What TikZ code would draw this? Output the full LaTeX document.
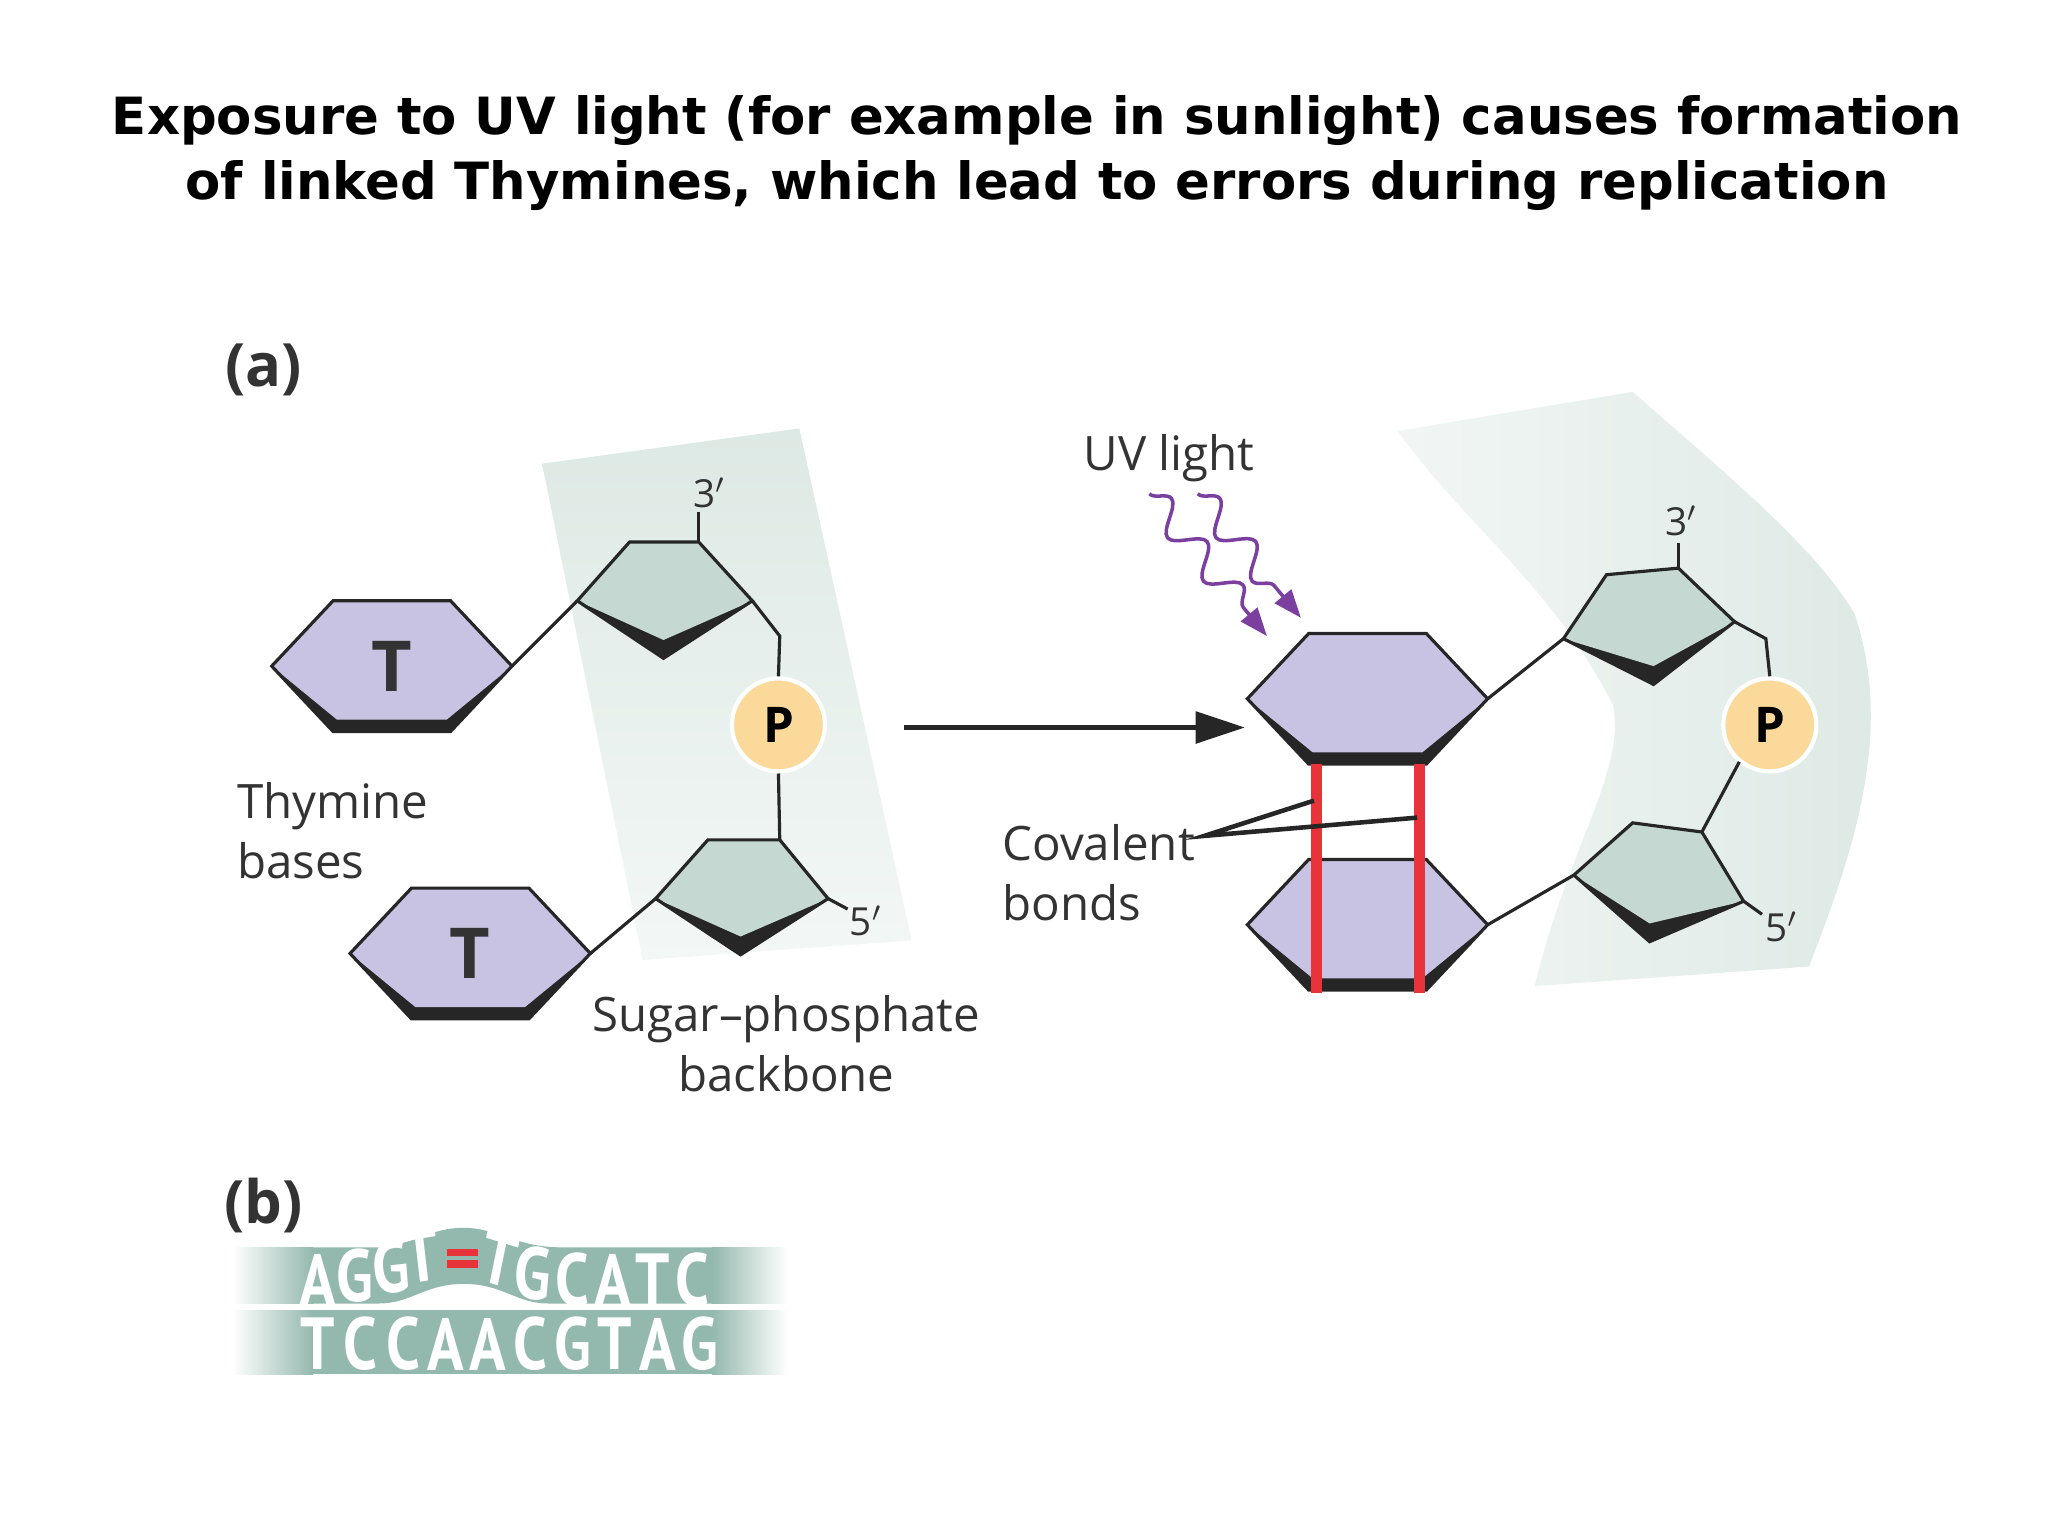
\documentclass[tikz,border=0pt]{standalone}
\usepackage{fontspec}
\setmainfont{Open Sans}
\newfontfamily\titlefont{DejaVu Sans}
\newfontfamily\seqfont{PT Sans}
\usetikzlibrary{decorations.pathmorphing,arrows.meta}
\definecolor{base}{HTML}{C9C3E3}
\definecolor{sug}{HTML}{C5D9D2}
\definecolor{band}{HTML}{DDE9E4}
\definecolor{pho}{HTML}{FBD99A}
\definecolor{uv}{HTML}{7B3FA0}
\definecolor{teal}{HTML}{93B8AD}
\definecolor{bond}{HTML}{E8333A}
\definecolor{lab}{HTML}{333333}
\tikzset{
  lbl/.style={font=\fontsize{13.5}{17}\selectfont, text=lab, inner sep=0pt},
  prime/.style={font=\fontsize{11}{11}\selectfont, text=lab, inner sep=0pt},
  link/.style={line width=0.9pt, draw=black!85},
  phos/.style={circle, fill=pho, draw=white, line width=1.2pt, minimum size=0.93cm, inner sep=0pt, font=\bfseries\fontsize{14}{14}\selectfont},
  tb/.style={font=\bfseries\fontsize{20}{20}\selectfont, text=black!80, inner sep=0pt},
  seq/.style={font=\seqfont\bfseries\fontsize{21}{21}\selectfont, text=white, inner sep=0pt, xscale=0.82},
}
\newcommand\myhex[3]{%
  \fill[black!85] (#2-92,#3) -- (#2-45,#3-50) -- (#2+45,#3-50) -- (#2+92,#3) -- (#2+45,#3+50) -- (#2-45,#3+50) -- cycle;
  \fill[base] (#2-92,#3) -- (#2-45,#3-50) -- (#2+45,#3-50) -- (#2+92,#3) -- (#2+42,#3+41) -- (#2-42,#3+41) -- cycle;
  \draw[line width=0.9pt, black!85, line join=miter] (#2-92,#3) -- (#2-45,#3-50) -- (#2+45,#3-50) -- (#2+92,#3) -- (#2+45,#3+50) -- (#2-45,#3+50) -- cycle;
  \coordinate (#1L) at (#2-92,#3); \coordinate (#1R) at (#2+92,#3);
}
\newcommand\mypent[6]{%
  \fill[black!85] #1 -- #2 -- #3 -- #4 -- #5 -- cycle;
  \fill[sug] #1 -- #2 -- #3 -- #4 -- #6 -- cycle;
  \draw[line width=0.9pt, black!85] #1 -- #2 -- #3 -- #4 -- #5 -- cycle;
}
\begin{document}
\begin{tikzpicture}[x=0.013061cm, y=-0.013061cm]
\useasboundingbox (0,0) rectangle (1568,1176);
\node[font=\titlefont\bfseries\fontsize{14.6}{18.5}\selectfont, align=center] (title) at (794,117)
  {Exposure to UV light (for example in sunlight) causes formation\\of linked Thymines, which lead to errors during replication};
\node[font=\bfseries\fontsize{17}{17}\selectfont, text=lab] (la) at (202,283) {(a)};
\node[font=\bfseries\fontsize{17}{17}\selectfont, text=lab] (lb) at (202,923) {(b)};
% backbone bands
\shade[top color=band, bottom color=band!35] (415,355) -- (612,328) -- (698,720) -- (492,735) -- cycle;
\shade[left color=band!40, right color=band] (1070,330) -- (1250,300) .. controls (1330,370) and (1390,420) .. (1420,470)
  .. controls (1450,560) and (1420,650) .. (1385,740) -- (1175,755) .. controls (1200,650) and (1245,590) .. (1235,540)
  .. controls (1190,450) and (1120,400) .. cycle;
% left structure
\myhex{h1}{300}{510}
\myhex{h2}{360}{730}
\node[tb] (t1) at (300,510) {T};
\node[tb] (t2) at (360,730) {T};
\mypent{(442,460)}{(482,415)}{(535,415)}{(576,460)}{(508,504)}{(508,490)}
\mypent{(502,688)}{(542,643)}{(597,643)}{(634,688)}{(567,731)}{(567,717)}
\coordinate (s1L) at (442,460); \coordinate (s1T) at (535,415); \coordinate (s1R) at (576,460);
\coordinate (s2L) at (502,688); \coordinate (s2T) at (597,643); \coordinate (s2R) at (634,688);
\node[phos] (p1) at (596,555) {P};
\draw[link] (h1R) -- (s1L);
\draw[link] (h2R) -- (s2L);
\draw[link] (s1R) -- (597,487) -- (p1.north);
\draw[link] (p1.south) -- (s2T);
\node[prime] (tp1) at (543,377) {3$'$};
\draw[link] (s1T) -- (535,392);
\node[prime] (fp1) at (663,705) {5$'$};
\draw[link] (s2R) -- (649,696);
\node[lbl, align=left, anchor=west] (thy) at (181,636) {Thymine\\bases};
\node[lbl, align=center] (spb) at (602,799) {Sugar--phosphate\\backbone};
% arrow
\coordinate (a0) at (692,557); \coordinate (a1) at (953,557);
\draw[line width=1.2pt, black!85, -{Triangle[length=14pt,width=9pt]}] (a0) -- (a1);
% UV
\node[lbl] (uvl) at (895,351) {UV light};
\coordinate (w1s) at (880,378); \coordinate (w1e) at (970,487);
\coordinate (w2s) at (917,378); \coordinate (w2e) at (996,473);
\draw[uv, line width=1pt, decorate, decoration={snake, amplitude=4, segment length=16, post length=10}, -{Triangle[length=8pt,width=6pt]}] (w1s) -- (w1e);
\draw[uv, line width=1pt, decorate, decoration={snake, amplitude=4, segment length=16, post length=10}, -{Triangle[length=8pt,width=6pt]}] (w2s) -- (w2e);
% right dimer
\myhex{h3}{1047}{535}
\myhex{h4}{1047}{708}
\draw[bond, line width=3.2pt] (1008,585) -- (1008,760);
\draw[bond, line width=3.2pt] (1087,585) -- (1087,760);
\coordinate (cb) at (922,640);
\draw[line width=1.3pt, black!85] (1006,613) -- (cb) -- (1085,626);
\node[lbl, align=left, anchor=west] (cov) at (767,668) {Covalent\\bonds};
\mypent{(1197,489)}{(1230,440)}{(1285,435)}{(1328,476)}{(1266,524)}{(1266,510)}
\mypent{(1205,670)}{(1250,630)}{(1303,637)}{(1335,690)}{(1263,721)}{(1263,707)}
\node[phos] (p2) at (1355,555) {P};
\draw[link] (h3R) -- (1197,489);
\draw[link] (h4R) -- (1205,670);
\draw[link] (1328,476) -- (1352,489) -- (p2.north);
\draw[link] (p2.south west) ++(3,2) -- (1303,637);
\draw[link] (1285,435) -- (1285,416);
\node[prime] (tp2) at (1287,399) {3$'$};
\draw[link] (1335,690) -- (1349,700);
\node[prime] (fp2) at (1364,710) {5$'$};
% (b) sequence
\shade[left color=white, right color=teal] (178,955) rectangle (240,998);
\shade[left color=white, right color=teal] (178,1003) rectangle (240,1052);
\shade[left color=teal, right color=white] (545,955) rectangle (603,998);
\shade[left color=teal, right color=white] (545,1003) rectangle (603,1052);
\fill[teal] (239,1003) rectangle (546,1052);
\fill[teal] (239,955) -- (290,955) .. controls (320,952) and (330,940) .. (355,940) .. controls (380,940) and (395,955) .. (430,955)
  -- (546,955) -- (546,998) -- (420,998) .. controls (395,998) and (385,983) .. (355,983) .. controls (325,983) and (315,998) .. (290,998) -- (239,998) -- cycle;
\foreach \c/\x/\y/\r in {A/243/980/0, G/272/977/0, G/299/970/5, T/323/962/8, T/382/964/-14, G/408/975/-6, C/438/980/0, A/469/980/0, T/500/980/0, C/530/980/0}
  \node[seq, rotate=\r] at (\x,\y) {\c};
\draw[bond, line width=2.2pt] (342,959) -- (366,959);
\draw[bond, line width=2.2pt] (342,968) -- (366,968);
\foreach \c [count=\i] in {T,C,C,A,A,C,G,T,A,G}
  \node[seq] at (211+\i*32.5,1029) {\c};
\end{tikzpicture}
\end{document}
